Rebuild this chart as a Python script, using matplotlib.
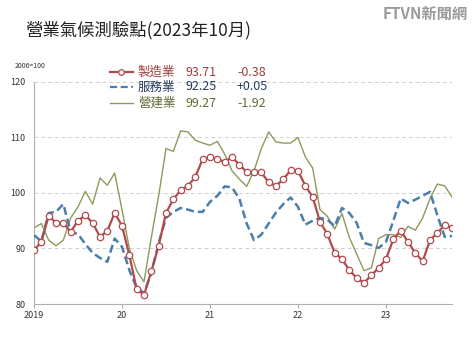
import matplotlib
matplotlib.use("Agg")
import matplotlib.pyplot as plt
from matplotlib.lines import Line2D

plt.rcParams['font.family'] = ['Noto Sans CJK TC', 'DejaVu Sans']

title = "營業氣候測驗點(2023年10月)"
base_note = "2006=100"
year_labels = ["2019", "20", "21", "22", "23"]
year_positions = [0, 12, 24, 36, 48]
y_ticks = [80, 90, 100, 110, 120]

series_names = ["製造業", "服務業", "營建業"]
latest_values = ["93.71", "92.25", "99.27"]
latest_changes = ["-0.38", "+0.05", "-1.92"]

# Monthly, Jan 2019 - Oct 2023
manufacturing = [
    89.7, 91.2, 95.9, 94.6, 94.6, 93.0, 95.0, 96.0, 94.6, 92.1, 93.2, 96.4,
    94.1, 88.8, 82.7, 81.6, 85.9, 90.5, 96.4, 98.9, 100.5, 101.3, 102.9, 106.1,
    106.5, 106.1, 105.6, 106.5, 105.1, 103.8, 103.7, 103.7, 101.9, 101.3, 102.5, 104.1,
    104.0, 101.3, 99.3, 94.8, 92.6, 89.2, 88.1, 86.1, 84.7, 83.8, 85.2, 86.5,
    88.1, 91.7, 93.2, 91.2, 89.2, 87.7, 91.5, 92.8, 94.2, 93.71,
]
services = [
    92.4, 91.3, 96.4, 96.6, 98.0, 93.0, 92.6, 90.8, 89.2, 88.3, 87.6, 91.8,
    90.3, 86.1, 82.9, 82.0, 85.6, 91.0, 95.5, 96.6, 97.3, 97.0, 96.6, 96.6,
    98.4, 99.5, 101.2, 101.0, 99.0, 94.5, 91.5, 92.5, 94.5, 96.5, 98.0, 99.2,
    97.5, 94.3, 95.0, 95.5, 95.2, 94.0, 97.3, 96.4, 94.6, 91.0, 90.6, 90.1,
    91.2, 95.0, 99.0, 98.2, 98.8, 99.5, 100.2, 96.0, 92.1, 92.25,
]
construction = [
    93.7, 94.5, 91.5, 90.5, 91.5, 95.5, 97.5, 100.3, 98.0, 102.7, 101.4, 103.6,
    97.0, 90.0, 86.0, 84.0, 92.0, 99.5, 108.0, 107.5, 111.2, 111.0, 109.5, 109.0,
    108.6, 109.3, 107.0, 104.0, 102.5, 101.2, 104.0, 108.0, 111.0, 109.2, 109.0, 109.0,
    110.0, 106.5, 104.5, 97.0, 95.8, 93.5, 96.3, 92.0, 89.0, 86.0, 86.5, 91.8,
    92.5, 92.5, 92.0, 94.0, 93.3, 95.5, 99.0, 101.6, 101.3, 99.27,
]

c_man = "#b24a4c"
c_srv = "#4b7eac"
c_con = "#8c9a5c"
t_man = "#9c3c3c"
t_srv = "#243c5c"
t_con = "#5f6b34"

W, H = 474, 355
fig = plt.figure(figsize=(W / 100, H / 100), dpi=100)
fig.patch.set_facecolor("white")

ax = fig.add_axes([34 / W, 1 - 304 / H, (452 - 34) / W, (304 - 82) / H])
x = list(range(len(manufacturing)))

ax.plot(x, construction, color=c_con, lw=1.0, zorder=2, solid_joinstyle="round")
ax.plot(x, services, color=c_srv, lw=1.8, ls=(0, (3.2, 1.6)), zorder=3,
        dash_joinstyle="round")
ax.plot(x, manufacturing, color=c_man, lw=1.6, marker="o", ms=4.6,
        mfc="white", mec=c_man, mew=0.9, zorder=4, solid_joinstyle="round")

ax.set_xlim(0, len(manufacturing) - 1)
ax.set_ylim(80, 120)
ax.set_yticks(y_ticks)
ax.set_yticklabels([str(v) for v in y_ticks], fontsize=6.5, color="#333333")
ax.set_xticks(year_positions)
ax.set_xticklabels(year_labels, fontsize=6.5, color="#333333")
ax.tick_params(axis="y", length=0, pad=6)
ax.tick_params(axis="x", length=3, color="#aaaaaa", direction="out", pad=2)
for v in y_ticks[1:]:
    ax.axhline(v, color="#d0d0d0", lw=0.7, ls=(0, (4, 3)), zorder=1)
for s in ["top", "right"]:
    ax.spines[s].set_visible(False)
ax.spines["left"].set_color("#b0b0b0")
ax.spines["bottom"].set_color("#b0b0b0")
ax.spines["left"].set_linewidth(0.8)
ax.spines["bottom"].set_linewidth(0.8)

# Title and notes
fig.text(25 / W, 1 - 30 / H, title, fontsize=12.5, color="#222222",
         va="center", ha="left")
fig.text(15 / W, 1 - 66 / H, base_note, fontsize=5, color="#333333",
         va="center", ha="left")
fig.text(468 / W, 1 - 14 / H, "FTVN新聞網", fontsize=11, color="#9a9a9a",
         va="center", ha="right", fontweight="bold")

# Legend drawn manually
rows_y = [72, 87, 103]
line_styles = [
    dict(color=c_man, lw=1.6, marker="o", ms=4.0, mfc="white", mec=c_man, mew=0.9,
         markevery=[1]),
    dict(color=c_srv, lw=1.6, ls=(0, (3.2, 1.6))),
    dict(color=c_con, lw=1.0),
]
text_cols = [t_man, t_srv, t_con]
for i in range(3):
    yy = 1 - rows_y[i] / H
    ln = Line2D([110 / W, 121 / W, 133 / W], [yy, yy, yy], transform=fig.transFigure,
                **line_styles[i])
    fig.add_artist(ln)
    fig.text(138 / W, yy, series_names[i], fontsize=9, color=text_cols[i],
             va="center", ha="left")
    fig.text(186 / W, yy, latest_values[i], fontsize=9, color=text_cols[i],
             va="center", ha="left")
    fig.text(237 / W, yy, latest_changes[i], fontsize=9, color=text_cols[i],
             va="center", ha="left")

fig.savefig("out.png", dpi=100, facecolor="white")
